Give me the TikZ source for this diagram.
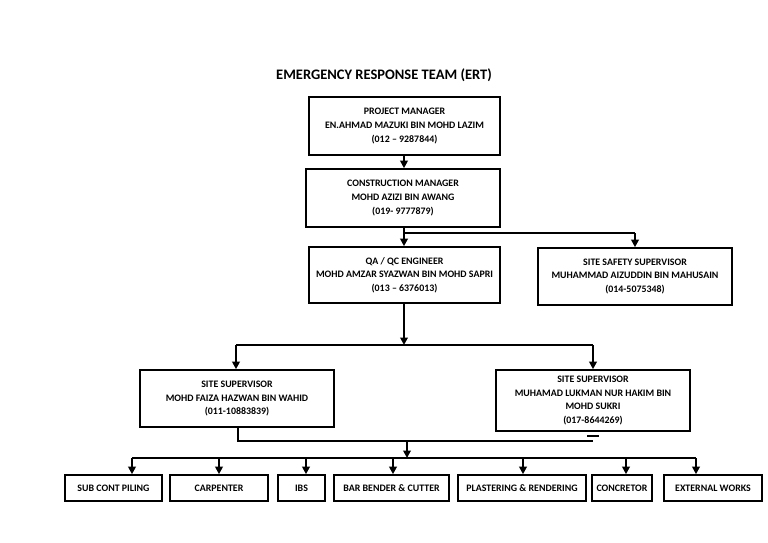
\documentclass[tikz,border=0pt]{standalone}
\usepackage{fontspec}
\setmainfont{Carlito}
\usetikzlibrary{arrows.meta, positioning}

\begin{document}
\begin{tikzpicture}[
    x=1pt, y=-1pt,
    box/.style={draw, line width=1.6pt, align=center, inner sep=0pt,
        font=\fontsize{9.9}{13.6}\selectfont\bfseries},
    trade/.style={draw, line width=1.6pt, align=center, inner sep=0pt,
        minimum height=26pt, font=\fontsize{9.9}{11}\selectfont\bfseries},
    arr/.style={-{Triangle[length=7.5pt,width=7.5pt]}, line width=2.3pt},
    bus/.style={line width=2.4pt}
]
    \useasboundingbox (0,0) rectangle (768,543);

    \node[font=\fontsize{14.5}{16}\selectfont\bfseries] (title) at (384,75) {EMERGENCY RESPONSE TEAM (ERT)};

    \node[box, minimum width=191pt, minimum height=58pt] (pm) at (404.5,126) {PROJECT MANAGER\\EN.AHMAD MAZUKI BIN MOHD LAZIM\\(012 -- 9287844)};
    \node[box, minimum width=194pt, minimum height=58pt] (cm) at (403,198) {CONSTRUCTION MANAGER\\MOHD AZIZI BIN AWANG\\(019- 9777879)};
    \node[box, minimum width=191pt, minimum height=56pt] (qa) at (404.5,275) {QA / QC ENGINEER\\MOHD AMZAR SYAZWAN BIN MOHD SAPRI\\(013 -- 6376013)};
    \node[box, minimum width=194pt, minimum height=57pt] (safety) at (635,276.5) {SITE SAFETY SUPERVISOR\\MUHAMMAD AIZUDDIN BIN MAHUSAIN\\(014-5075348)};
    \node[box, minimum width=194pt, minimum height=57pt] (ss1) at (237,398.5) {SITE SUPERVISOR\\MOHD FAIZA HAZWAN BIN WAHID\\(011-10883839)};
    \node[box, minimum width=194pt, minimum height=61pt] (ss2) at (593,400.5) {SITE SUPERVISOR\\MUHAMAD LUKMAN NUR HAKIM BIN\\MOHD SUKRI\\(017-8644269)};

    \node[trade, minimum width=97pt] (piling) at (113.5,488) {SUB CONT PILING};
    \node[trade, minimum width=98pt] (carp) at (219,488) {CARPENTER};
    \node[trade, minimum width=47pt] (ibs) at (301.5,488) {IBS};
    \node[trade, minimum width=115pt] (bar) at (391.5,488) {BAR BENDER \& CUTTER};
    \node[trade, minimum width=128pt] (plast) at (522,488) {PLASTERING \& RENDERING};
    \node[trade, minimum width=60pt] (concr) at (622,488) {CONCRETOR};
    \node[trade, minimum width=98pt] (ext) at (713,488) {EXTERNAL WORKS};

    % junction points
    \coordinate (j1) at (404,233);
    \coordinate (j2) at (635,233);
    \coordinate (j3) at (236,345);
    \coordinate (j4) at (593,345);
    \coordinate (j5) at (238,441);
    \coordinate (j6) at (593,441);
    \coordinate (j7) at (407,441);
    \coordinate (t1) at (132,458);
    \coordinate (t2) at (696,458);

    \draw[arr] (pm.south -| j1) -- (cm.north -| j1);
    \draw[arr] (cm.south -| j1) -- (qa.north -| j1);
    \draw[bus] (j1) -- (j2);
    \draw[arr] (j2) -- (safety.north -| j2);

    \draw[arr] (qa.south -| j1) -- (j1 |- j3);
    \draw[bus] (j3) -- (j4);
    \draw[arr] (j3) -- (ss1.north -| j3);
    \draw[arr] (j4) -- (ss2.north -| j4);

    \draw[bus] (ss1.south -| j5) -- (j5) -- (j6);
    \draw[line width=1.2pt] (587,436) -- (599,436);
    \draw[arr] (j7) -- (j7 |- t1);
    \draw[bus] (t1) -- (t2);

    \foreach \bx/\tb in {132/piling, 219/carp, 306/ibs, 393/bar, 523/plast, 626/concr, 696/ext}
        \draw[arr] (\bx,458) -- (\tb.north -| {(\bx,0)});
\end{tikzpicture}
\end{document}
